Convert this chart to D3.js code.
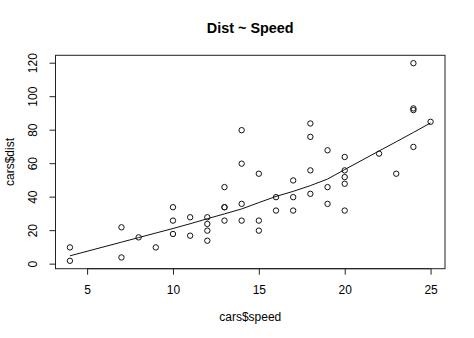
<!DOCTYPE html>
<html><head><meta charset="utf-8">
<script src="https://cdn.jsdelivr.net/npm/d3@7"></script>
<style>body{margin:0;background:#fff}svg{display:block}text{font-family:"Liberation Sans",Arial,Helvetica,sans-serif;fill:#000}</style>
</head><body>
<svg id="c" width="474" height="338"></svg>
<script>
const speed = [4,4,7,7,8,9,10,10,10,11,11,12,12,12,12,13,13,13,13,14,14,14,14,15,15,15,16,16,17,17,17,18,18,18,18,19,19,19,20,20,20,20,20,22,23,24,24,24,24,25];
const dist = [2,10,4,22,16,10,18,26,34,17,28,14,20,24,28,26,34,34,46,26,36,60,80,20,26,54,32,40,32,40,50,42,56,76,84,36,46,68,32,48,52,56,64,66,54,70,92,93,120,85];
const lowessX = [4,7,8,9,10,11,12,13,14,15,16,17,18,19,20,22,23,24,25];
const lowessY = [4.965459,13.124495,15.858633,18.579691,21.280313,24.129277,27.119549,30.027276,32.962506,36.757728,40.435075,43.463492,46.885479,50.793152,56.491224,67.585824,73.079695,78.643164,84.328698];
const xTicks = [5,10,15,20,25];
const yTicks = [0,20,40,60,80,100,120];
const title = "Dist ~ Speed", xLab = "cars$speed", yLab = "cars$dist";

const svg = d3.select("#c");
const L = 55.5, R = 445, T = 55.3, B = 268.7;
const xr = d3.extent(speed), yr = d3.extent(dist);
const xp = (xr[1]-xr[0])*0.04, yp = (yr[1]-yr[0])*0.04;
const x = d3.scaleLinear().domain([xr[0]-xp, xr[1]+xp]).range([L, R]);
const y = d3.scaleLinear().domain([yr[0]-yp, yr[1]+yp]).range([B, T]);

svg.append("rect").attr("x",L).attr("y",T).attr("width",R-L).attr("height",B-T)
  .attr("fill","none").attr("stroke","#222").attr("stroke-width",1);

const xa = svg.append("g").attr("transform",`translate(0,${B})`)
  .call(d3.axisBottom(x).tickValues(xTicks).tickSize(6).tickPadding(11).tickSizeOuter(0));
xa.select(".domain").attr("d",`M${x(xTicks[0])},0H${x(xTicks[xTicks.length-1])}`).attr("stroke","#222");
xa.selectAll("line").attr("stroke","#222");
xa.selectAll("text").attr("font-size","12px").attr("fill","#000");

const ya = svg.append("g").attr("transform",`translate(${L},0)`)
  .call(d3.axisLeft(y).tickValues(yTicks).tickSize(6).tickSizeOuter(0));
ya.select(".domain").attr("d",`M0,${y(yTicks[0])}V${y(yTicks[yTicks.length-1])}`).attr("stroke","#222");
ya.selectAll("line").attr("stroke","#222");
ya.selectAll("text").attr("font-size","12px").attr("fill","#000")
  .attr("x",null).attr("dy",null).attr("text-anchor","middle")
  .attr("transform",d=>`translate(${33-L},${y(d)}) rotate(-90)`).attr("y",0)
  .attr("dominant-baseline","central");
ya.selectAll(".tick").attr("transform","translate(0,0)");
ya.selectAll(".tick line").attr("transform",d=>`translate(0,${y(d)})`);

svg.append("path").datum(lowessX.map((v,i)=>[v,lowessY[i]]))
  .attr("d",d3.line().x(d=>x(d[0])).y(d=>y(d[1])))
  .attr("fill","none").attr("stroke","#111").attr("stroke-width",1);

svg.append("g").selectAll("circle").data(speed.map((v,i)=>[v,dist[i]])).join("circle")
  .attr("cx",d=>x(d[0])).attr("cy",d=>y(d[1])).attr("r",2.7)
  .attr("fill","none").attr("stroke","#111").attr("stroke-width",1);

svg.append("text").attr("x",(L+R)/2).attr("y",28).attr("text-anchor","middle")
  .attr("dominant-baseline","central").attr("font-size","14.4px").attr("font-weight","bold").text(title);
svg.append("text").attr("x",(L+R)/2).attr("y",317).attr("text-anchor","middle")
  .attr("dominant-baseline","central").attr("font-size","12px").text(xLab);
svg.append("text").attr("transform",`translate(10,${(T+B)/2}) rotate(-90)`).attr("text-anchor","middle")
  .attr("dominant-baseline","central").attr("font-size","12px").text(yLab);
</script>
</body></html>
